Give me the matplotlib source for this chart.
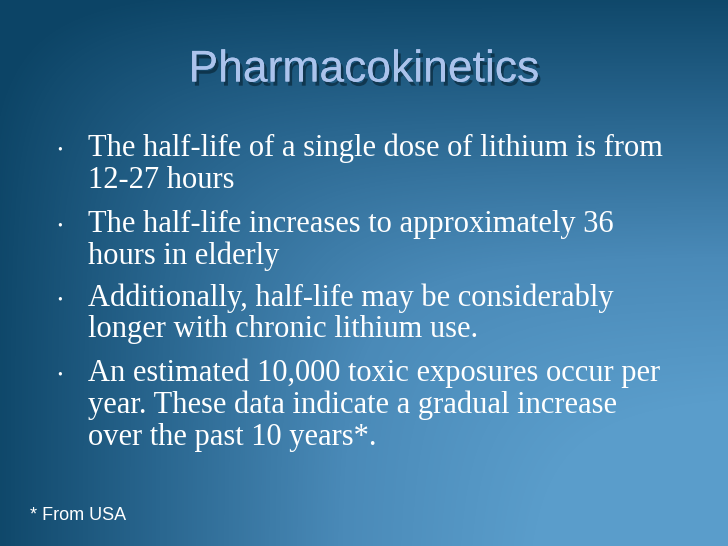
import numpy as np
import matplotlib
matplotlib.use("Agg")
import matplotlib.pyplot as plt
import matplotlib.patheffects as pe
from matplotlib.colors import LinearSegmentedColormap

title = "Pharmacokinetics"
bullets = [
    ["The half-life of a single dose of lithium is from", "12-27 hours"],
    ["The half-life increases to approximately 36", "hours in elderly"],
    ["Additionally, half-life may be considerably", "longer with chronic lithium use."],
    ["An estimated 10,000 toxic exposures occur per",
     "year. These data indicate a gradual increase",
     "over the past 10 years*."],
]
footnote = "* From USA"

W, H = 728, 546
fig = plt.figure(figsize=(W / 100, H / 100), dpi=100)
ax = fig.add_axes([0, 0, 1, 1])
ax.set_xlim(0, W)
ax.set_ylim(H, 0)
ax.axis("off")

# background gradient (dark top-left/edges -> light bottom-right)
yy, xx = np.mgrid[0:H, 0:W]
xn = xx / W
yn = yy / H
k = 8.0
f = -np.log(np.exp(-k * xn) + np.exp(-k * yn)) / k
f = np.clip((f + 0.03) / 0.75, 0, 1)
cmap = LinearSegmentedColormap.from_list("bg", ["#0c4466", "#2a6790", "#4a8ab8", "#5a9dcb"])
ax.imshow(f, cmap=cmap, extent=(0, W, H, 0), aspect="auto", interpolation="bilinear", zorder=0)

# title
ax.text(364, 70, title, ha="center", va="center", fontsize=32, color="#abc3ec",
        family="Liberation Sans",
        path_effects=[pe.withSimplePatchShadow(offset=(2, -3), shadow_rgbFace="#06202f", alpha=0.6),
                      pe.Normal()], zorder=3)

# bullets
tops = [148, 224, 298, 373]
line_gap = 32
for top, lines in zip(tops, bullets):
    ax.text(60, top + 2, "•", ha="center", va="center", fontsize=10, color="white",
            family="Liberation Serif", zorder=3)
    for i, ln in enumerate(lines):
        ax.text(88, top + i * line_gap, ln, ha="left", va="center", fontsize=22,
                color="white", family="Liberation Serif", zorder=3)

ax.text(30, 515, footnote, ha="left", va="center", fontsize=13, color="white",
        family=["Liberation Sans Narrow", "Liberation Sans"], zorder=3)

fig.savefig("out.png", dpi=100)
